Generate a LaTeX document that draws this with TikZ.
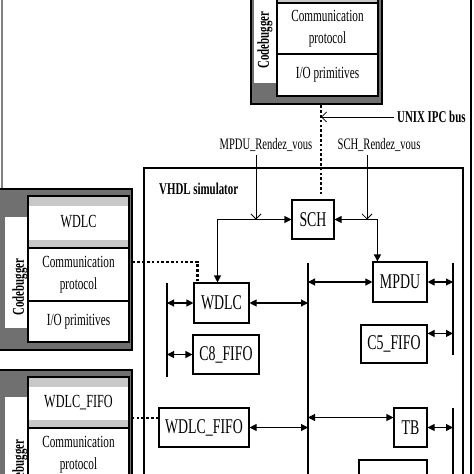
\documentclass[tikz,border=0pt]{standalone}
\usepackage{fontspec}
\setmainfont{Liberation Serif}[FakeStretch=0.66]
\usepackage{tikz}
\usetikzlibrary{arrows.meta}
\usetikzlibrary{positioning}

\definecolor{cdbgray}{RGB}{112,112,112}
\definecolor{bandgray}{RGB}{200,200,200}

\tikzset{
  blk/.style={draw, fill=white, line width=1.1pt, inner sep=0pt, font=\fontsize{21}{23}\selectfont},
  stk/.style={draw, fill=white, line width=1.1pt, inner sep=0pt, minimum width=101pt, align=center, font=\fontsize{17}{22}\selectfont},
  banded/.style={fill=bandgray, font=\fontsize{18.5}{20}\selectfont,
    path picture={\fill[white] ([xshift=0.6pt,yshift=-10pt]path picture bounding box.north west) rectangle ([xshift=-0.6pt,yshift=8pt]path picture bounding box.south east);}},
  cdbframe/.style={draw, fill=cdbgray, line width=1.1pt, inner sep=0pt, minimum width=134pt},
  cdbstrip/.style={fill=white, inner sep=0pt, minimum width=22pt},
  cdblabel/.style={rotate=90, inner sep=0pt, font=\bfseries\fontsize{16.5}{16.5}\selectfont},
  biarrow/.style={line width=1.1pt, {Triangle[length=7pt,width=7pt]}-{Triangle[length=7pt,width=7pt]}},
  rvarrow/.style={line width=0.8pt, -{Straight Barb[length=5pt,width=10pt]}},
  ipcbus/.style={line width=2.6pt, dash pattern=on 2.6pt off 2.2pt},
  busline/.style={line width=1.1pt},
  rvlabel/.style={inner sep=0pt, font=\fontsize{16}{17}\selectfont},
}

\begin{document}
\begin{tikzpicture}[x=1pt,y=-1pt]
  \useasboundingbox (0,0) rectangle (474,474);
  \clip (0,0) rectangle (474,474);

  \draw [gray, line width=1.5pt] (2,0) -- (2,189); % frame edges
  \draw [black, line width=2.5pt] (471,0) -- (471,474);

  % top codebugger
  \node [cdbframe, minimum width=131pt, minimum height=134pt] (cdbT) at (316.5,37) {};
  \node [cdbstrip, minimum height=113pt] (stripT) at (265,26.5) {};
  \node [cdblabel] (cdbTlabel) at (265,40) {Codebugger};
  \node [stk, fill=bandgray, minimum height=46pt] (bandT) at (327.5,-20) {};
  \node [stk, minimum height=51pt] (commT) at (327.5,28.5) {Communication\\protocol};
  \node [stk, minimum height=42pt] (ioT) at (327.5,75) {I/O primitives};

  % middle codebugger
  \node [cdbframe, minimum height=161pt] (cdbM) at (65,269.5) {};
  \node [cdbstrip, minimum height=111pt] (stripM) at (16,272.5) {};
  \node [cdblabel] (cdbMlabel) at (20,287) {Codebugger};
  \node [stk, banded, minimum height=52pt] (wdlcS) at (78.5,222) {WDLC};
  \node [stk, minimum height=53pt] (commM) at (78.5,274.5) {Communication\\protocol};
  \node [stk, minimum height=41pt] (ioM) at (78.5,321.5) {I/O primitives};

  % bottom codebugger
  \node [cdbframe, minimum height=130pt] (cdbB) at (65,435) {};
  \node [cdbstrip, minimum height=103pt] (stripB) at (16,448.5) {};
  \node [cdblabel] (cdbBlabel) at (20,468) {Codebugger};
  \node [stk, banded, minimum height=51pt] (wdlcfifoS) at (78.5,402.5) {WDLC\_FIFO};
  \node [stk, minimum height=53pt] (commB) at (78.5,454.5) {Communication\\protocol};

  % VHDL simulator
  \draw [line width=1.1pt] (144,168) rectangle (463,495); % Draws a rectangle
  \node [anchor=west, inner sep=0pt, font=\bfseries\fontsize{16.5}{16.5}\selectfont] (simlabel) at (159,189) {VHDL simulator};

  \node [blk, minimum width=42pt, minimum height=39pt] (sch) at (313,219.5) {SCH};
  \node [blk, minimum width=54pt, minimum height=40pt] (mpdu) at (400,282) {MPDU};
  \node [blk, minimum width=55pt, minimum height=40pt] (wdlc) at (221.5,303) {WDLC};
  \node [blk, minimum width=66pt, minimum height=39pt] (c8fifo) at (226,354.5) {C8\_FIFO};
  \node [blk, minimum width=66pt, minimum height=38pt] (c5fifo) at (394,344) {C5\_FIFO};
  \node [blk, minimum width=90pt, minimum height=39pt] (wdlcfifo) at (204,427.5) {WDLC\_FIFO};
  \node [blk, minimum width=33pt, minimum height=39pt] (tb) at (410.5,427.5) {TB};
  \node [blk, minimum width=68pt, minimum height=40pt] (lastbox) at (393,480) {};

  % buses
  \coordinate (lbusT) at (167,283);
  \coordinate (lbusB) at (167,377);
  \coordinate (cbusT) at (308,263);
  \coordinate (cbusB) at (308,490);
  \coordinate (rbusT) at (453,263);
  \coordinate (rbusM) at (453,355);
  \coordinate (rbus2T) at (453,408);
  \coordinate (rbus2B) at (453,490);
  \draw [busline] (lbusT) -- (lbusB);
  \draw [busline] (cbusT) -- (cbusB);
  \draw [busline] (rbusT) -- (rbusM);
  \draw [busline] (rbus2T) -- (rbus2B);

  \draw [biarrow] (wdlc.west) -- (wdlc.west -| lbusT);
  \draw [biarrow] (c8fifo.west) -- (c8fifo.west -| lbusT);
  \draw [biarrow] (wdlc.east) -- (wdlc.east -| cbusT);
  \draw [biarrow] (wdlcfifo.east) -- (wdlcfifo.east -| cbusT);
  \draw [biarrow] (mpdu.west) -- (mpdu.west -| cbusT);
  \coordinate (tblink) at ([yshift=10pt]tb.west);
  \draw [biarrow] (tblink) -- (tblink -| cbusT);
  \draw [biarrow] (mpdu.east) -- (mpdu.east -| rbusT);
  \coordinate (c5link) at ([yshift=-9pt]c5fifo.north east);
  \draw [biarrow] (c5link) -- (c5link -| rbusT);
  \draw [biarrow] (tb.east) -- (tb.east -| rbus2T);

  \draw [biarrow] (sch.west) -| ([xshift=-4pt]wdlc.north);
  \draw [biarrow] (sch.east) -| ([xshift=5pt]mpdu.north west);

  % rendez-vous and IPC
  \node [rvlabel] (mpdurv) at (266,145) {MPDU\_Rendez\_vous};
  \node [rvlabel] (schrv) at (379,145) {SCH\_Rendez\_vous};
  \coordinate (mpdujoin) at (256,219.5);
  \coordinate (schjoin) at (367,219.5);
  \draw [rvarrow] ([yshift=-3pt]mpdurv.south -| mpdujoin) -- (mpdujoin);
  \draw [rvarrow] ([yshift=-3pt]schrv.south -| schjoin) -- (schjoin);

  \coordinate (ipcdrop) at ([xshift=8pt,yshift=5pt]sch.north);
  \draw [ipcbus] (ipcdrop) -- (ipcdrop |- cdbT.south);
  \node [anchor=west, inner sep=0pt, font=\bfseries\fontsize{16.5}{16.5}\selectfont] (ipc) at (397,117) {UNIX IPC bus};
  \draw [rvarrow] ([xshift=-3pt]ipc.west) -- (ipc.west -| ipcdrop);

  \coordinate (wdlclink) at ([yshift=7.5pt]cdbM.east);
  \draw [ipcbus] (wdlclink) -| ([xshift=4pt]wdlc.north west);
  \coordinate (fifolink) at ([yshift=9.5pt]wdlcfifo.west);
  \draw [ipcbus] (fifolink) -- (fifolink -| cdbB.east);
\end{tikzpicture}
\end{document}
